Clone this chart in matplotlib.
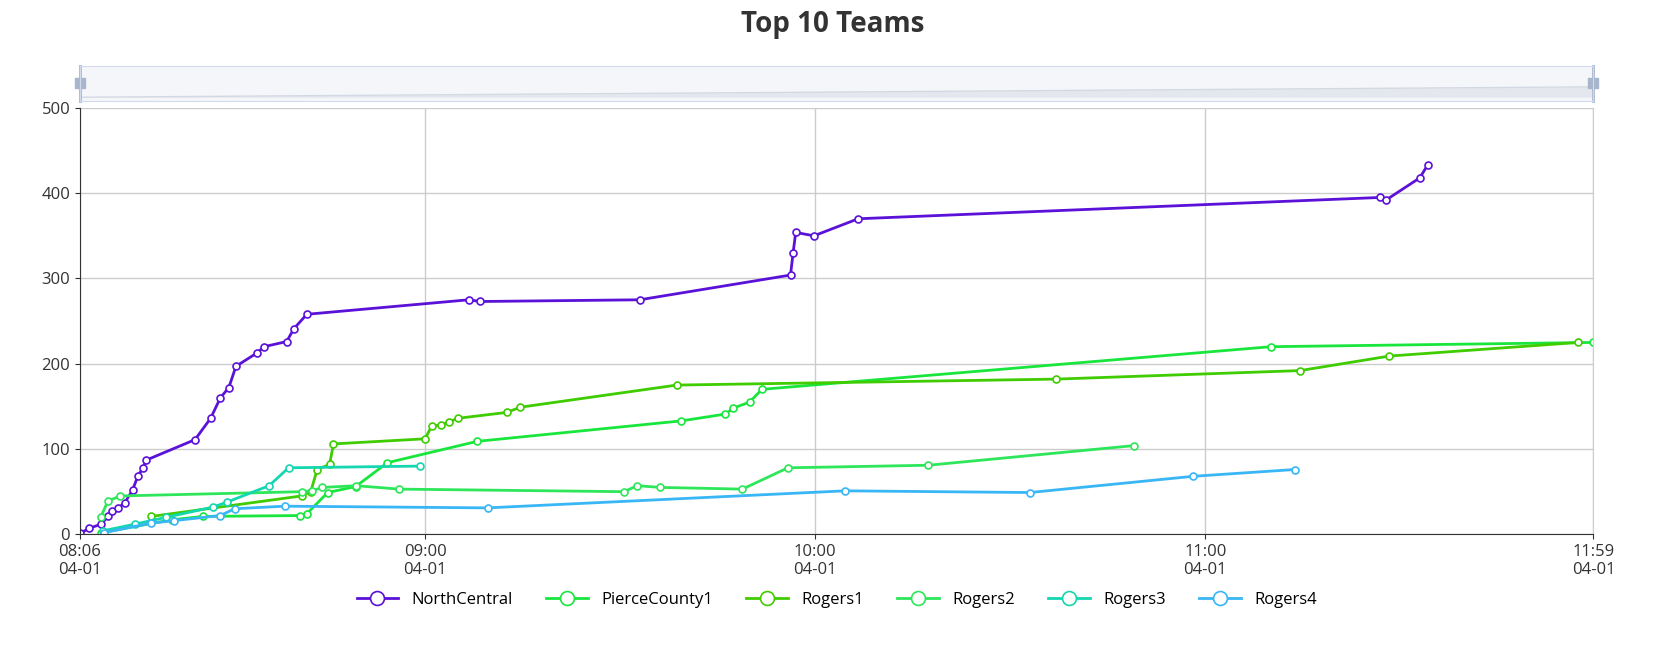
import matplotlib.pyplot as plt
import numpy as np

# minutes after 08:00, values
nc_t = [6.9, 8.3, 10.2, 11.2, 11.8, 12.8, 13.8, 15.0, 15.8, 16.6, 17.1, 24.6, 27.0, 28.5, 29.8, 30.9, 34.2, 35.2,
        38.7, 39.8, 41.8, 66.7, 68.5, 93.0, 116.2, 116.6, 117.0, 119.8, 126.6, 206.9, 207.8, 213.0, 214.2]
nc_v = [1, 7, 12, 21, 27, 31, 37, 52, 68, 78, 87, 111, 136, 160, 172, 197, 213, 220,
        226, 241, 258, 275, 273, 275, 304, 330, 354, 350, 370, 395, 392, 418, 433]
pc_t = [10.2, 21.0, 25.8, 40.8, 41.8, 45.0, 49.3, 54.2, 68.0, 99.4, 106.2, 107.4, 109.9, 111.8, 190.1, 239.7]
pc_v = [2, 17, 21, 22, 24, 49, 56, 84, 109, 133, 141, 148, 155, 170, 220, 225]
r1_t = [17.9, 41.0, 42.4, 43.4, 45.3, 45.9, 60.0, 61.0, 62.4, 63.7, 65.0, 72.6, 74.6, 98.7, 157.1, 194.6, 208.3, 237.4]
r1_v = [21, 45, 50, 76, 82, 106, 112, 127, 128, 132, 136, 143, 149, 175, 182, 192, 209, 225]
r2_t = [10.1, 11.2, 13.1, 41.0, 42.6, 44.2, 49.4, 56.0, 90.6, 92.6, 96.2, 108.8, 115.8, 137.4, 169.0]
r2_v = [20, 39, 45, 50, 51, 55, 57, 53, 50, 57, 55, 53, 78, 81, 104]
r3_t = [10.4, 15.4, 20.2, 27.4, 29.6, 36.0, 39.0, 59.2]
r3_v = [4, 12, 20, 32, 38, 57, 78, 80]
r4_t = [10.6, 17.8, 21.3, 28.5, 30.7, 38.4, 69.6, 124.6, 153.0, 178.1, 193.8]
r4_v = [2, 13, 16, 22, 30, 33, 31, 51, 49, 68, 76]

teams = ['NorthCentral', 'PierceCounty1', 'Rogers1', 'Rogers2', 'Rogers3', 'Rogers4']
series = [(nc_t, nc_v), (pc_t, pc_v), (r1_t, r1_v), (r2_t, r2_v), (r3_t, r3_v), (r4_t, r4_v)]
colors = ['#5b11d8', '#19e63c', '#3fcc00', '#2ee65a', '#14d6b0', '#38b6f5']

tick_pos = [6.9, 60, 120, 180, 239.7]
tick_lab = ['08:06\n04-01', '09:00\n04-01', '10:00\n04-01', '11:00\n04-01', '11:59\n04-01']

plt.rcParams['font.family'] = ['Open Sans', 'DejaVu Sans']
fig = plt.figure(figsize=(16.65, 6.54), dpi=100)
ax = fig.add_axes([0.048, 0.183, 0.909, 0.652])

for name, (t, v), c in zip(teams, series, colors):
    ax.plot(t, v, color=c, lw=2, marker='o', ms=5, mfc='white', mec=c, mew=1.2, label=name)

ax.set_xlim(6.9, 239.7)
ax.set_ylim(0, 500)
ax.set_xticks(tick_pos)
ax.set_xticklabels(tick_lab)
ax.set_yticks(range(0, 501, 100))
ax.tick_params(labelsize=12, colors='#333333')
ax.grid(color='#cccccc', lw=1)
ax.set_axisbelow(True)
ax.spines['top'].set_visible(False)
ax.spines['right'].set_color('#cccccc')
ax.spines['left'].set_color('#333333')
ax.spines['bottom'].set_color('#333333')

fig.suptitle('Top 10 Teams', y=0.985, fontsize=20, fontweight='bold', color='#333333')

# data zoom slider
sl = fig.add_axes([0.048, 0.846, 0.909, 0.053])
sl.set_facecolor('#f5f6f9')
sl.fill_between([6.9, 239.7], [0.1, 0.1], [0.1, 0.4], color='#e4e8ee', lw=0)
sl.plot([6.9, 239.7], [0.1, 0.4], color='#d3d9e2', lw=1)
sl.set_xlim(6.9, 239.7)
sl.set_ylim(0, 1)
sl.set_xticks([])
sl.set_yticks([])
for s in sl.spines.values():
    s.set_color('#d2dbee')
for xh in [6.9, 239.7]:
    sl.plot([xh, xh], [0, 1], color='#a8b6cd', lw=2, clip_on=False)
    sl.plot([xh], [0.5], marker='s', ms=7, color='#a8b6cd', clip_on=False)

ax.legend(loc='upper center', bbox_to_anchor=(0.5, -0.1), ncol=6, frameon=False, fontsize=12,
          handlelength=2.5, markerscale=2)

fig.savefig('out.png')
